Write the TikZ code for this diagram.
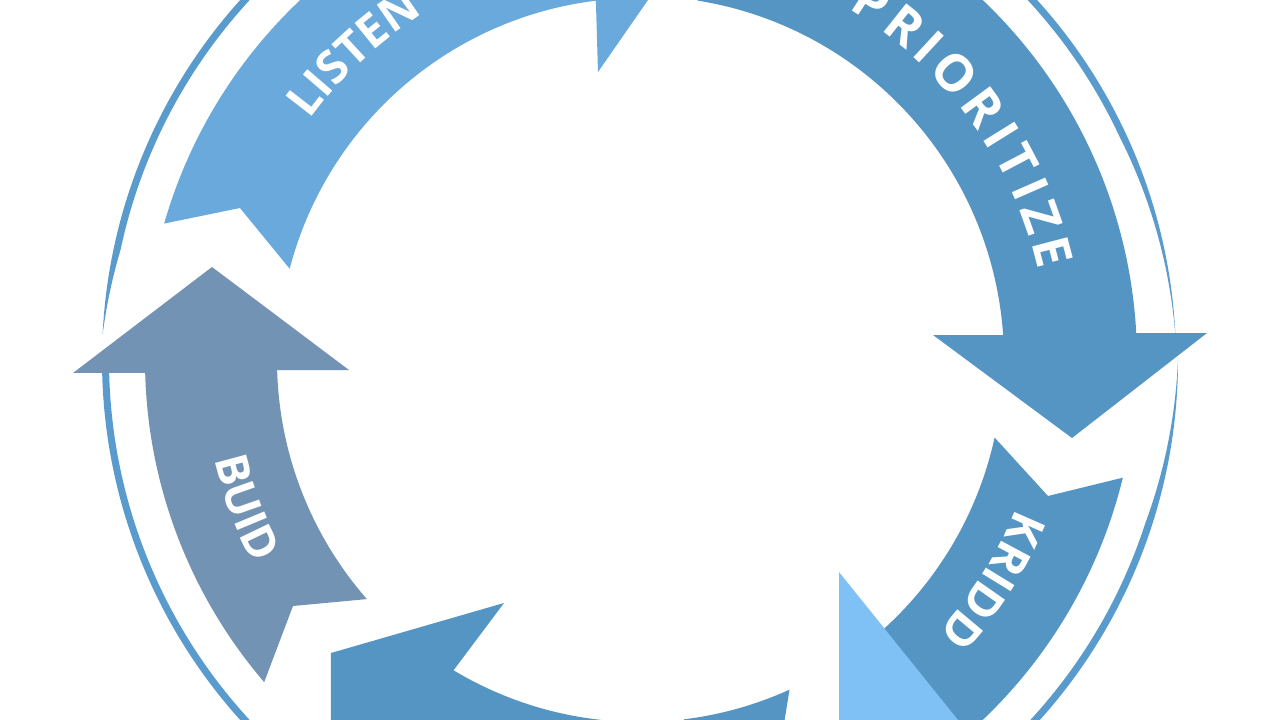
\documentclass[tikz,border=0pt]{standalone}
\usepackage{xcolor}
\usepackage{fontspec}
\setmainfont{Open Sans}
\usetikzlibrary{decorations.text}
\definecolor{ringblue}{HTML}{5A9BCE}
\definecolor{listenblue}{HTML}{69A9DC}
\definecolor{deepblue}{HTML}{5595C3}
\definecolor{buildblue}{HTML}{7393B5}
\definecolor{lightblue}{HTML}{7FC0F5}
\newcommand{\labfont}[2]{\color{white}\bfseries\fontsize{#1}{#1}\selectfont\fontdimen2\font=#2pt\relax}
\tikzset{
  ringpart/.style={fill=ringblue},
  arctext/.style n args={3}{decorate,decoration={text along path,text align=center,text={|\labfont{#1}{#2}|#3}}}
}
\begin{document}
\begin{tikzpicture}[x=1pt,y=1pt]
\useasboundingbox (-640,-360) rectangle (640,360);
\clip (-640,-360) rectangle (640,360);

% ring
\fill[ringpart] (133:538) arc (133:177.3:538) -- plot[domain=177.3:168,samples=16] (\x:{531+7*(\x-168)/9.3}) arc (168:133:531) -- cycle;
\fill[ringpart] (44:536) arc (44:2.6:536) -- plot[domain=2.6:25,samples=24] (\x:{529+7*(25-\x)/22.4}) arc (25:44:529) -- cycle;
\fill[ringpart] (-46:538) arc (-46:0:538) -- plot[domain=0:-18,samples=20] (\x:{531+7*(18+\x)/18}) arc (-18:-46:531) -- cycle;
\fill[ringpart] (181.4:538) arc (181.4:224:538) -- (224:531) arc (224:181.4:531) -- cycle;

% listen
\fill[listenblue] (164:495) arc (164:130:495) -- (15,370) -- (-42,288) -- (97:362)
  arc (97:165.4:362) -- (-400,152) -- cycle;

% prioritize
\fill[deepblue] (57,370) -- (80.9:364) arc (80.9:3.9:364) -- (293,25) -- (432,-78) -- (567,27) -- (3.1:497)
  arc (3.1:50:497) -- cycle;

% kridd
\fill[deepblue] (355,-78) -- (408,-136) -- (-13.7:497) arc (-13.7:-50:497) -- (300,-370)
  -- (-48.5:363) arc (-48.5:-12.4:363) -- cycle;

% bottom
\fill[deepblue] (-309,-293) -- (-136,-243) -- (239:362) arc (239:264:362) -- (-40,-370)
  -- (-309,-370) -- cycle;
\fill[deepblue] (43,-370) -- (-83:362) arc (-83:-65.6:362) -- (143,-370) -- cycle;

% build
\fill[buildblue] (-428,93) -- (-567,-13) -- (181.5:495) arc (181.5:220.6:495) -- (-347,-246)
  -- (221.2:363) arc (221.2:181.6:363) -- (-291,-10) -- cycle;

\fill[lightblue] (199,-212) -- (318,-360) -- (199,-360) -- cycle;

% labels
\path[arctext={46}{12}{LISTEN}] (154:408) arc (154:112:408);
\path[arctext={51}{6}{P R I O R I T I Z E}] (78:408) arc (78:-6:408);
\path[arctext={47}{12}{KRIDD}] (-6:404) arc (-6:-58:404);
\path[arctext={45}{12}{BUID}] (175:437) arc (175:226:437);

\end{tikzpicture}
\end{document}
